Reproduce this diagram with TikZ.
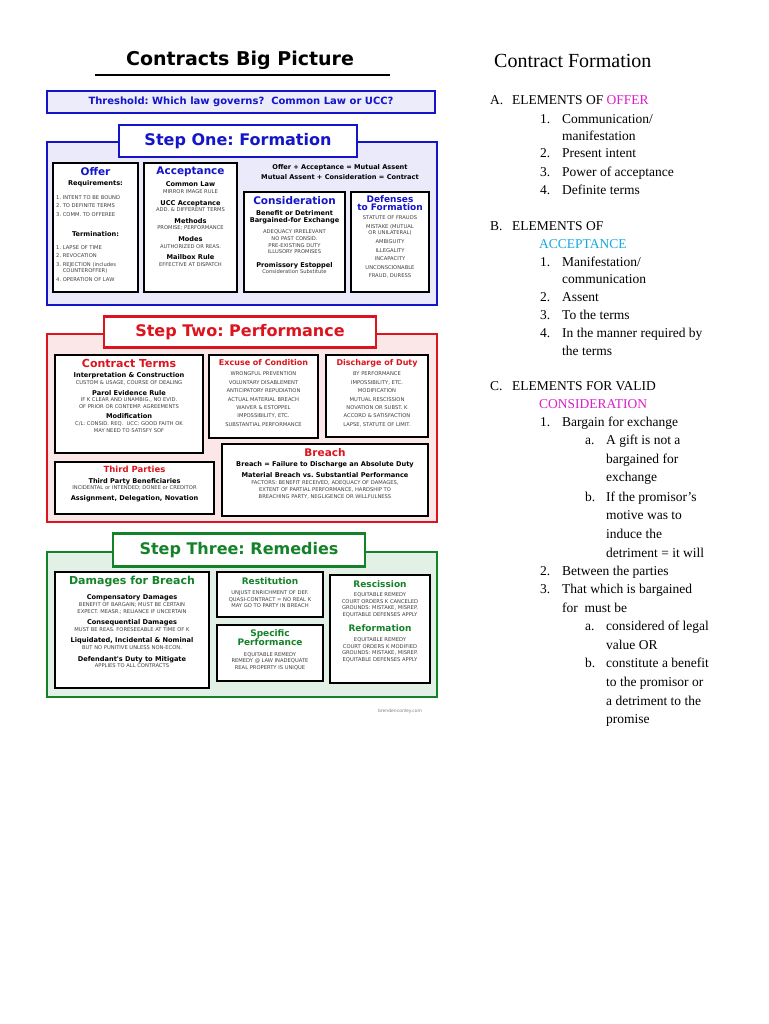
\documentclass[tikz,border=0pt]{standalone}
\usepackage{fontspec}
\setmainfont{Liberation Serif}
\newfontfamily\vf{DejaVu Sans}
\frenchspacing
\definecolor{bl}{RGB}{20,20,200}
\definecolor{rd}{RGB}{220,20,30}
\definecolor{gr}{RGB}{20,130,40}
\definecolor{mag}{RGB}{220,30,200}
\definecolor{cy}{RGB}{20,170,220}
\newcommand{\Hd}{\vf\fontsize{10.5}{12}\selectfont\bfseries}
\newcommand{\Sb}{\vf\fontsize{6.6}{8}\selectfont\bfseries\color{black}}
\newcommand{\Sm}{\vf\fontsize{5.2}{6.6}\selectfont\mdseries\color{black!75}}
\tikzset{
 frame/.style={line width=2.2pt},
 ibox/.style={draw=black,line width=1.3pt,fill=white},
 btxt/.style={anchor=north,align=center,inner sep=0pt,font=\vf\fontsize{5.2}{6.6}\selectfont},
 ltxt/.style={anchor=north west,align=left,inner sep=0pt,font=\vf\fontsize{5.2}{6.6}\selectfont},
 rt/.style={anchor=base west,inner sep=0pt,font=\fontsize{13.5}{16}\selectfont}
}
\begin{document}
\begin{tikzpicture}[x=1pt,y=-1pt]
\useasboundingbox[fill=white] (0,0) rectangle (768,1024);
% title
\node[inner sep=0pt] (ttl) at (240,60) {\vf\bfseries\fontsize{19}{22}\selectfont Contracts Big Picture};
\draw[line width=1.5pt] (95,75) -- (390,75);
\node[draw=bl,line width=1.5pt,fill=bl!8,minimum width=388pt,minimum height=22pt,inner sep=0pt] (thr) at (241,102)
 {\vf\bfseries\fontsize{10}{12}\selectfont\color{bl}Threshold: Which law governs?\ \ Common Law or UCC?};
% ===== Step one
\draw[frame,draw=bl,fill=bl!9] (47,142) rectangle (437,305);
\node[draw=bl,frame,fill=white,minimum width=238pt,minimum height=32pt,inner sep=0pt] (s1) at (238,141)
 {\vf\bfseries\fontsize{16}{18}\selectfont\color{bl}Step One: Formation};
\draw[ibox] (53,163) rectangle (138,292);
\node[btxt] (offer) at (95.5,167) {\Hd\color{bl}Offer\\[4pt]\Sb Requirements:};
\node[ltxt] (offr) at (56,195) {\Sm 1. INTENT TO BE BOUND\\[2pt]\Sm 2. TO DEFINITE TERMS\\[2pt]\Sm 3. COMM. TO OFFEREE};
\node[btxt] (term) at (95.5,231) {\Sb Termination:};
\node[ltxt] (terml) at (56,245) {\Sm 1. LAPSE OF TIME\\[2pt]\Sm 2. REVOCATION\\[2pt]\Sm 3. REJECTION (includes\\\Sm\ \ \ \ COUNTEROFFER)\\[2pt]\Sm 4. OPERATION OF LAW};
\draw[ibox] (144,163) rectangle (237,292);
\node[btxt] (acc) at (190.5,167) {\Hd\color{bl}Acceptance\\[4pt]\Sb Common Law\\\Sm MIRROR IMAGE RULE\\[5pt]\Sb UCC Acceptance\\\Sm ADD. \& DIFFERENT TERMS\\[5pt]\Sb Methods\\\Sm PROMISE; PERFORMANCE\\[5pt]\Sb Modes\\\Sm AUTHORIZED OR REAS.\\[5pt]\Sb Mailbox Rule\\\Sm EFFECTIVE AT DISPATCH};
\node[btxt] (mut) at (340,164) {\Sb Offer + Acceptance = Mutual Assent\\[4pt]\Sb Mutual Assent + Consideration = Contract};
\draw[ibox] (244,192) rectangle (345,292);
\node[btxt] (cons) at (294.5,196) {\Hd\color{bl}Consideration\\[5pt]\Sb Benefit or Detriment\\\Sb Bargained-for Exchange\\[5pt]\Sm ADEQUACY IRRELEVANT\\\Sm NO PAST CONSID.\\\Sm PRE-EXISTING DUTY\\\Sm ILLUSORY PROMISES\\[7pt]\Sb Promissory Estoppel\\\Sm Consideration Substitute};
\draw[ibox] (351,192) rectangle (429,292);
\node[btxt] (def) at (390,195) {\Hd\color{bl}\fontsize{9}{11}\selectfont Defenses\\\Hd\color{bl}\fontsize{9}{11}\selectfont to Formation\\[3pt]\Sm STATUTE OF FRAUDS\\[2pt]\Sm MISTAKE (MUTUAL\\\Sm OR UNILATERAL)\\[2pt]\Sm AMBIGUITY\\[2pt]\Sm ILLEGALITY\\[2pt]\Sm INCAPACITY\\[2pt]\Sm UNCONSCIONABLE\\[2pt]\Sm FRAUD, DURESS};
% ===== Step two
\draw[frame,draw=rd,fill=rd!10] (47,334) rectangle (437,522);
\node[draw=rd,frame,fill=white,minimum width=272pt,minimum height=31pt,inner sep=0pt] (s2) at (240,332)
 {\vf\bfseries\fontsize{16}{18}\selectfont\color{rd}Step Two: Performance};
\draw[ibox] (55,355) rectangle (203,453);
\node[btxt] (ct) at (129,359) {\Hd\color{rd}\fontsize{11}{13}\selectfont Contract Terms\\[4pt]\Sb Interpretation \& Construction\\\Sm CUSTOM \& USAGE, COURSE OF DEALING\\[4pt]\Sb Parol Evidence Rule\\\Sm IF K CLEAR AND UNAMBIG., NO EVID.\\\Sm OF PRIOR OR CONTEMP. AGREEMENTS\\[4pt]\Sb Modification\\\Sm C/L: CONSID. REQ.\ \ UCC: GOOD FAITH OK\\\Sm MAY NEED TO SATISFY SOF};
\draw[ibox] (209,355) rectangle (318,438);
\node[btxt] (exc) at (263.5,359) {\Hd\color{rd}\fontsize{8}{9.5}\selectfont Excuse of Condition\\[4pt]\Sm WRONGFUL PREVENTION\\[1.8pt]\Sm VOLUNTARY DISABLEMENT\\[1.8pt]\Sm ANTICIPATORY REPUDIATION\\[1.8pt]\Sm ACTUAL MATERIAL BREACH\\[1.8pt]\Sm WAIVER \& ESTOPPEL\\[1.8pt]\Sm IMPOSSIBILITY, ETC.\\[1.8pt]\Sm SUBSTANTIAL PERFORMANCE};
\draw[ibox] (326,355) rectangle (428,437);
\node[btxt] (dis) at (377,359) {\Hd\color{rd}\fontsize{8}{9.5}\selectfont Discharge of Duty\\[4pt]\Sm BY PERFORMANCE\\[1.8pt]\Sm IMPOSSIBILITY, ETC.\\[1.8pt]\Sm MODIFICATION\\[1.8pt]\Sm MUTUAL RESCISSION\\[1.8pt]\Sm NOVATION OR SUBST. K\\[1.8pt]\Sm ACCORD \& SATISFACTION\\[1.8pt]\Sm LAPSE, STATUTE OF LIMIT.};
\draw[ibox] (55,462) rectangle (214,514);
\node[btxt] (tp) at (134.5,466) {\Hd\color{rd}\fontsize{8.5}{10}\selectfont Third Parties\\[4pt]\Sb Third Party Beneficiaries\\\Sm INCIDENTAL or INTENDED; DONEE or CREDITOR\\[4pt]\Sb Assignment, Delegation, Novation};
\draw[ibox] (222,444) rectangle (428,516);
\node[btxt] (br) at (325,448) {\Hd\color{rd}Breach\\[4pt]\Sb Breach = Failure to Discharge an Absolute Duty\\[4pt]\Sb Material Breach vs. Substantial Performance\\[1pt]\Sm FACTORS: BENEFIT RECEIVED, ADEQUACY OF DAMAGES,\\\Sm EXTENT OF PARTIAL PERFORMANCE, HARDSHIP TO\\\Sm BREACHING PARTY, NEGLIGENCE OR WILLFULNESS};
% ===== Step three
\draw[frame,draw=gr,fill=gr!12] (47,552) rectangle (437,697);
\node[draw=gr,frame,fill=white,minimum width=252pt,minimum height=33pt,inner sep=0pt] (s3) at (239,550)
 {\vf\bfseries\fontsize{16}{18}\selectfont\color{gr}Step Three: Remedies};
\draw[ibox] (55,572) rectangle (209,688);
\node[btxt] (dam) at (132,576) {\Hd\color{gr}\fontsize{11}{13}\selectfont Damages for Breach\\[7pt]\Sb Compensatory Damages\\\Sm BENEFIT OF BARGAIN; MUST BE CERTAIN\\\Sm EXPECT. MEASR.; RELIANCE IF UNCERTAIN\\[5pt]\Sb Consequential Damages\\\Sm MUST BE REAS. FORESEEABLE AT TIME OF K\\[5pt]\Sb Liquidated, Incidental \& Nominal\\\Sm BUT NO PUNITIVE UNLESS NON-ECON.\\[5pt]\Sb Defendant's Duty to Mitigate\\\Sm APPLIES TO ALL CONTRACTS};
\draw[ibox] (217,572) rectangle (323,617);
\node[btxt] (res) at (270,577) {\Hd\color{gr}\fontsize{9}{10.5}\selectfont Restitution\\[4pt]\Sm UNJUST ENRICHMENT OF DEF.\\\Sm QUASI-CONTRACT = NO REAL K\\\Sm MAY GO TO PARTY IN BREACH};
\draw[ibox] (217,625) rectangle (323,681);
\node[btxt] (sp) at (270,629) {\Hd\color{gr}\fontsize{9}{10.5}\selectfont Specific\\\Hd\color{gr}\fontsize{9}{10.5}\selectfont Performance\\[4pt]\Sm EQUITABLE REMEDY\\\Sm REMEDY @ LAW INADEQUATE\\\Sm REAL PROPERTY IS UNIQUE};
\draw[ibox] (330,575) rectangle (430,683);
\node[btxt] (resc) at (380,580) {\Hd\color{gr}\fontsize{9}{10.5}\selectfont Rescission\\[3pt]\Sm EQUITABLE REMEDY\\\Sm COURT ORDERS K CANCELED\\\Sm GROUNDS: MISTAKE, MISREP.\\\Sm EQUITABLE DEFENSES APPLY\\[7pt]\Hd\color{gr}\fontsize{9}{10.5}\selectfont Reformation\\[3pt]\Sm EQUITABLE REMEDY\\\Sm COURT ORDERS K MODIFIED\\\Sm GROUNDS: MISTAKE, MISREP.\\\Sm EQUITABLE DEFENSES APPLY};
\node[inner sep=0pt] (web) at (400,711) {\vf\fontsize{4.5}{5}\selectfont\color{black!50}brendenconley.com};
% ===== right column
\node[anchor=base west,inner sep=0pt,font=\fontsize{20}{24}\selectfont] (cf) at (494,68) {Contract Formation};
\foreach \x/\y/\t in {
 490/105/A.,512/105/{ELEMENTS OF \textcolor{mag}{OFFER}},
 540/124/1.,562/124/{Communication/},562/141/manifestation,
 540/158/2.,562/158/Present intent,
 540/177/3.,562/177/Power of acceptance,
 540/195/4.,562/195/Definite terms,
 490/230/B.,512/230/ELEMENTS OF,539/248/\textcolor{cy}{ACCEPTANCE},
 540/266/1.,562/266/{Manifestation/},562/283/communication,
 540/301/2.,562/301/Assent,
 540/319/3.,562/319/To the terms,
 540/337/4.,562/337/In the manner required by,562/355/the terms,
 490/390/C.,512/390/ELEMENTS FOR VALID,539/408/\textcolor{mag}{CONSIDERATION},
 540/426/1.,562/426/Bargain for exchange,
 585/444/a.,606/444/A gift is not a,606/463/bargained for,606/481/exchange,
 585/501/b.,606/501/If the promisor’s,606/519/motive was to,606/538/induce the,606/557/detriment = it will,
 540/575/2.,562/575/Between the parties,
 540/593/3.,562/593/That which is bargained,562/612/for\ \ must be,
 585/630/a.,606/630/considered of legal,606/649/value OR,
 585/667/b.,606/667/constitute a benefit,606/686/to the promisor or,606/705/a detriment to the,606/723/promise}
 {\node[rt] at (\x,\y) {\t};}
\end{tikzpicture}
\end{document}
